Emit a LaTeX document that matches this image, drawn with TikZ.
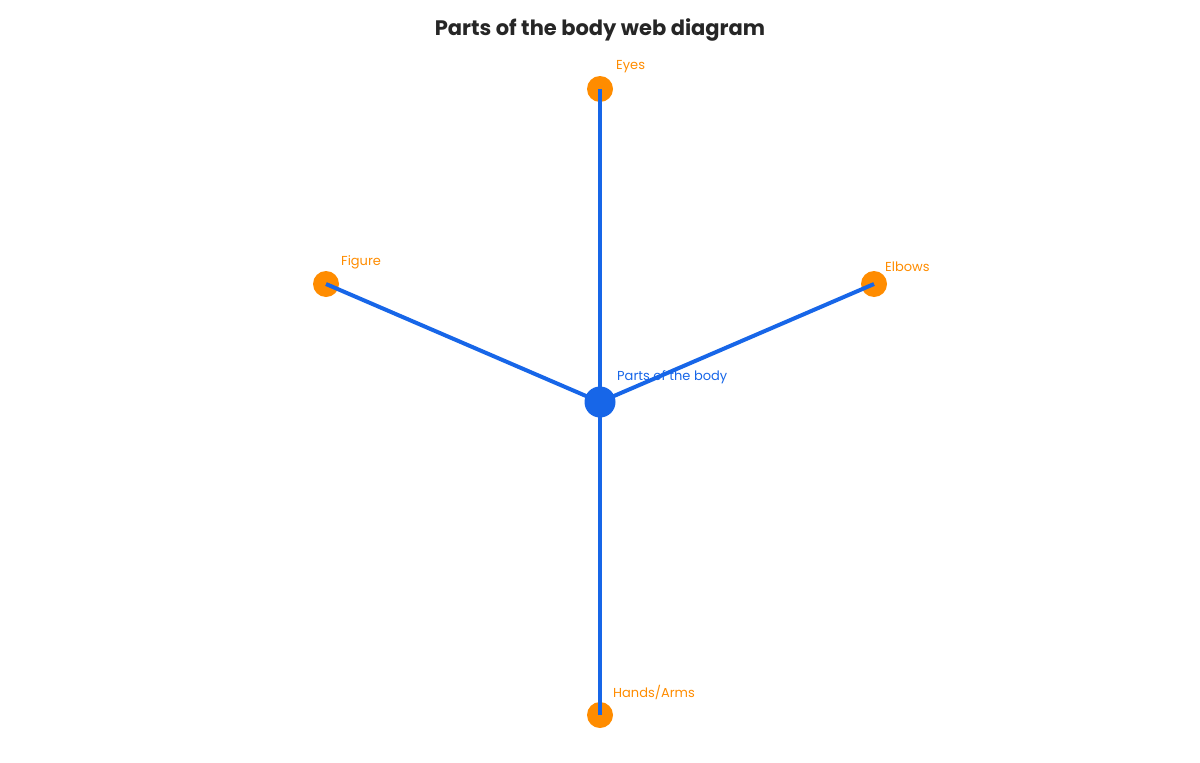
\documentclass[tikz,border=0pt]{standalone}
\usepackage{fontspec}
\setmainfont{Poppins}
\usepackage{xcolor}
\definecolor{webblue}{HTML}{1766E8}
\definecolor{weborange}{HTML}{FF8C00}
\usetikzlibrary{positioning}

\begin{document}
\begin{tikzpicture}[x=1pt,y=-1pt,font=\fontsize{13}{15}\selectfont,
	leaf/.style={circle,fill=weborange,inner sep=0pt,minimum size=26pt},
	hub/.style={circle,fill=webblue,inner sep=0pt,minimum size=31pt},
	lbl/.style={text=weborange,anchor=south west,inner sep=0pt}]
	\useasboundingbox (0,0) rectangle (1200,763);
	\node[font=\bfseries\fontsize{21}{25}\selectfont,text=black!85,name=title] at (600,30){Parts of the body web diagram};
	\node[leaf,name=eyes] at (600,89){};
	\node[leaf,name=figure] at (326,284){};
	\node[leaf,name=elbows] at (874,284){};
	\node[leaf,name=hands] at (600,715){};
	\node[lbl,name=eyeslbl] at (616,73){Eyes};
	\node[lbl,name=figurelbl] at (341,269){Figure};
	\node[lbl,name=elbowslbl] at (885,272){Elbows};
	\node[lbl,name=handslbl] at (613,700){Hands/Arms};
	\coordinate (hubc) at (600,402);

	\path[draw=webblue,line width=4pt] (hubc) edge (eyes.center)
		(hubc) edge (figure.center)
		(hubc) edge (elbows.center)
		(hubc) edge (hands.center);
	\node[hub,name=body] at (hubc){};
	\node[lbl,text=webblue,name=bodylbl] at (617,384){Parts of the body};
\end{tikzpicture}
\end{document}
